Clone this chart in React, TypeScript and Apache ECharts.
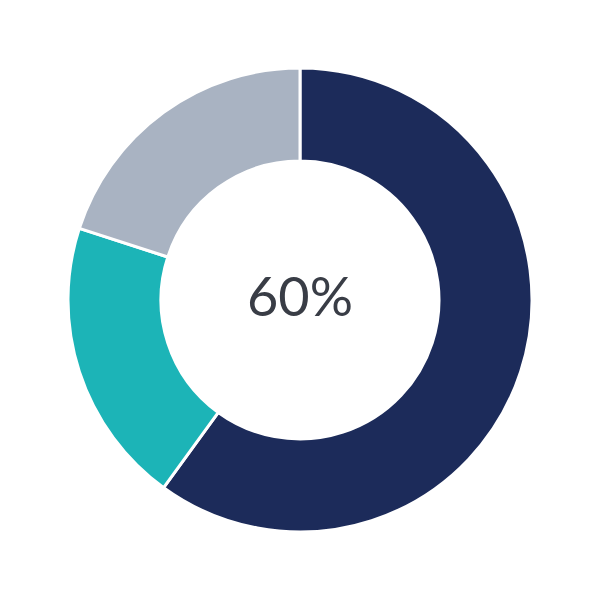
import { useEffect, useRef } from 'react'
import * as echarts from 'echarts'

const segmentNames = ['Primary', 'Secondary', 'Other']
const segmentValues = [60, 20, 20]
const segmentColors = ['#1c2b5a', '#1cb4b7', '#a9b3c2']
const centerLabel = '60%'

export default function App() {
  const ref = useRef<HTMLDivElement>(null)

  useEffect(() => {
    if (!ref.current) return
    const chart = echarts.init(ref.current, undefined, { renderer: 'svg' })

    const option: echarts.EChartsOption = {
      animation: false,
      color: segmentColors,
      graphic: [
        {
          type: 'text',
          left: 'center',
          top: 268,
          style: {
            text: centerLabel,
            fontFamily: 'Lato',
            fontWeight: 'normal',
            fontSize: 54,
            fill: '#393d46',
          },
        },
      ],
      series: [
        {
          type: 'pie',
          radius: [139, 232],
          center: [300, 300],
          startAngle: 90,
          clockwise: true,
          label: { show: false },
          labelLine: { show: false },
          emphasis: { disabled: true },
          itemStyle: { borderColor: '#ffffff', borderWidth: 3 },
          data: segmentNames.map((name, i) => ({ name, value: segmentValues[i] })),
        },
      ],
    }

    chart.setOption(option)
    return () => chart.dispose()
  }, [])

  return (
    <div
      ref={ref}
      style={{ position: 'absolute', left: 0, top: 0, width: 600, height: 600, background: '#fff' }}
    />
  )
}
